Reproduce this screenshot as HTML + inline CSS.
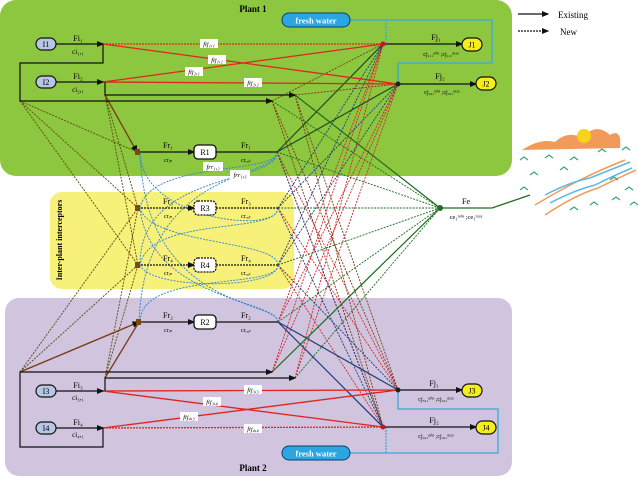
<!DOCTYPE html>
<html><head><meta charset="utf-8"><style>
html,body{margin:0;padding:0;background:#fff}
svg{display:block}
text{font-family:"Liberation Serif",serif;}
</style></head><body>
<svg width="638" height="478" viewBox="0 0 638 478" xmlns="http://www.w3.org/2000/svg">
<defs>
<marker id="a" markerWidth="6" markerHeight="6" refX="5" refY="3" orient="auto"><path d="M0,0.5 L6,3 L0,5.5z" fill="#111"/></marker>
</defs>
<rect x="0" y="0" width="512" height="176" rx="16" fill="#8dc63f"/>
<rect x="50" y="192" width="244" height="97" rx="12" fill="#f7f17a"/>
<rect x="5" y="298" width="507" height="178" rx="14" fill="#d0c4de"/>
<text x="253" y="12" font-size="9" font-weight="bold" text-anchor="middle">Plant 1</text>
<text x="253" y="471" font-size="9" font-weight="bold" text-anchor="middle">Plant 2</text>
<text x="62" y="240" font-size="8" font-weight="bold" text-anchor="middle" transform="rotate(-90 62 240)">Inter-plant interceptors</text>

<line x1="518" y1="14" x2="548" y2="14" stroke="#111" stroke-width="1.2" marker-end="url(#a)"/>
<text x="558" y="18" font-size="9">Existing</text>
<line x1="518" y1="31" x2="548" y2="31" stroke="#111" stroke-width="1.2" stroke-dasharray="2,1" marker-end="url(#a)"/>
<text x="560" y="35" font-size="9">New</text>

<g fill="none" stroke-width="1.5">
<path d="M522,150 Q540,138 555,142 Q568,130 582,138 Q596,122 610,135 Q622,128 620,148 L522,150z" fill="#f29a5a" stroke="none"/>
<circle cx="584" cy="136" r="7" fill="#f7d31c" stroke="none"/>
<path d="M535,205 Q560,190 580,180 Q600,170 625,160" stroke="#f29a5a"/>
<path d="M545,215 Q575,195 598,188 Q618,178 636,170" stroke="#f29a5a"/>
<path d="M545,195 Q570,182 590,178 Q610,170 630,162" stroke="#5fb7e5"/>
<path d="M550,203 Q575,190 595,185 Q615,175 632,168" stroke="#5fb7e5"/>
<g stroke="#3aa57a" stroke-width="1.2">
<path d="M520,160 l4,-3 l4,3 M545,158 l4,-3 l4,3 M570,160 l4,-3 l4,3 M598,152 l4,-3 l4,3 M622,150 l4,-3 l4,3 M530,175 l4,-3 l4,3 M560,170 l4,-3 l4,3 M610,180 l4,-3 l4,3 M625,190 l4,-3 l4,3 M520,190 l4,-3 l4,3 M590,205 l4,-3 l4,3 M612,200 l4,-3 l4,3 M630,205 l4,-3 l4,3 M570,210 l4,-3 l4,3"/>
</g>
</g>

<polyline points="440,208 492,208 530,195" fill="none" stroke="#1b6e20" stroke-width="1.3"/>
<circle cx="440" cy="208" r="3" fill="#1b6e20"/>
<text x="466" y="204" font-size="8" text-anchor="middle">Fe</text>
<text x="466" y="219" font-size="6.5" text-anchor="middle">ce₁ᵐⁱⁿ ;ce₁ᵐᵃˣ</text>

<g fill="none" stroke="#3aa8e0" stroke-width="1.3">
<polyline points="350,20 492,20 492,63 398,63 398,84"/>
<line x1="386" y1="20" x2="386" y2="44" stroke-dasharray="2,1"/>
<polyline points="350,453 498,453 498,409 398,409 398,390"/>
<line x1="386" y1="453" x2="386" y2="427" stroke-dasharray="2,1"/>
</g>
<rect x="282" y="13" width="68" height="14" rx="7" fill="#2ba6e0" stroke="#0d3f6b"/>
<text x="316" y="23.5" font-size="8.5" font-weight="bold" fill="#fff" text-anchor="middle">fresh water</text>
<rect x="282" y="446" width="68" height="14" rx="7" fill="#2ba6e0" stroke="#0d3f6b"/>
<text x="316" y="456.5" font-size="8.5" font-weight="bold" fill="#fff" text-anchor="middle">fresh water</text>

<g fill="none" stroke-width="0.9" stroke-dasharray="2,1.2">
<g stroke="#7a3a14">
<line x1="272" y1="101" x2="383" y2="44"/><line x1="295" y1="95" x2="398" y2="84"/>
<line x1="272" y1="101" x2="398" y2="390"/><line x1="295" y1="95" x2="383" y2="427"/>
<line x1="272" y1="101" x2="383" y2="427"/><line x1="295" y1="95" x2="398" y2="390"/>
</g>
<g stroke="#d3262e">
<line x1="272" y1="372" x2="383" y2="44"/><line x1="295" y1="378" x2="398" y2="84"/>
<line x1="272" y1="372" x2="398" y2="84"/><line x1="295" y1="378" x2="383" y2="44"/>
<line x1="277" y1="152" x2="383" y2="427"/><line x1="278" y1="208" x2="398" y2="390"/>
<line x1="278" y1="265" x2="383" y2="427"/><line x1="277" y1="152" x2="398" y2="390"/>
<line x1="278" y1="322" x2="383" y2="44"/><line x1="278" y1="322" x2="398" y2="84"/>
</g>
<g stroke="#1d3b7a">
<line x1="278" y1="208" x2="383" y2="44"/><line x1="278" y1="208" x2="398" y2="84"/>
<line x1="278" y1="265" x2="383" y2="44"/><line x1="278" y1="265" x2="398" y2="84"/>
<line x1="278" y1="208" x2="383" y2="427"/><line x1="278" y1="265" x2="398" y2="390"/>
<line x1="277" y1="152" x2="383" y2="427"/>
</g>
<g stroke="#1b6e20">
<line x1="277" y1="152" x2="440" y2="208"/><line x1="278" y1="208" x2="440" y2="208"/>
<line x1="278" y1="265" x2="440" y2="208"/><line x1="278" y1="322" x2="440" y2="208"/>
<line x1="272" y1="101" x2="440" y2="208"/><line x1="272" y1="372" x2="440" y2="208"/>
<line x1="295" y1="378" x2="440" y2="208"/>
</g>
</g>
<g fill="none" stroke-width="1.2">
<line x1="277" y1="152" x2="383" y2="44" stroke="#1b4f20"/>
<line x1="277" y1="152" x2="398" y2="84" stroke="#1b4f20"/>
<line x1="295" y1="95" x2="440" y2="208" stroke="#1b6e20"/>
<line x1="278" y1="322" x2="398" y2="390" stroke="#1d3b7a"/>
<line x1="278" y1="322" x2="383" y2="427" stroke="#1d3b7a"/>
<line x1="272" y1="372" x2="440" y2="208" stroke="#1b6e20"/>
</g>

<g fill="none" stroke="#e0241f" stroke-width="1.3">
<line x1="103" y1="44" x2="383" y2="44" stroke-dasharray="2,1"/>
<line x1="103" y1="44" x2="398" y2="84"/>
<line x1="103" y1="82" x2="383" y2="44"/>
<line x1="103" y1="82" x2="398" y2="84"/>
<line x1="103" y1="391" x2="398" y2="390"/>
<line x1="103" y1="391" x2="383" y2="427"/>
<line x1="103" y1="428" x2="398" y2="390"/>
<line x1="103" y1="428" x2="383" y2="427" stroke-dasharray="2,1"/>
</g>

<g fill="none" stroke="#5a4a10" stroke-width="0.9" stroke-dasharray="2,1.2">
<line x1="20" y1="101" x2="138" y2="208"/><line x1="20" y1="101" x2="138" y2="265"/>
<line x1="105" y1="95" x2="138" y2="208"/><line x1="105" y1="95" x2="138" y2="265"/>
<line x1="20" y1="372" x2="138" y2="208"/><line x1="20" y1="372" x2="138" y2="265"/>
<line x1="105" y1="378" x2="138" y2="208"/><line x1="105" y1="378" x2="138" y2="265"/>
<line x1="20" y1="101" x2="137" y2="152"/><line x1="20" y1="372" x2="139" y2="322"/>
</g>
<g fill="none" stroke="#7a3a14" stroke-width="1.3">
<line x1="105" y1="95" x2="137" y2="152" marker-end="url(#a)"/>
<line x1="20" y1="372" x2="139" y2="322" marker-end="url(#a)"/>
<line x1="105" y1="378" x2="139" y2="322"/>
</g>

<g fill="none" stroke="#2f86c8" stroke-width="0.9" stroke-dasharray="2,1.2">
<path d="M277,152 C277,175 150,160 140,208"/>
<path d="M277,152 C277,185 140,170 140,265"/>
<path d="M277,152 C277,180 145,165 139,322"/>
<path d="M278,208 C278,235 140,220 140,152"/>
<path d="M278,208 C278,235 150,215 140,265"/>
<path d="M278,265 C278,240 150,245 140,208"/>
<path d="M278,265 C278,290 140,270 140,322"/>
<path d="M278,322 C278,300 145,310 140,152"/>
<path d="M278,322 C278,300 150,300 140,208"/>
<path d="M278,265 C278,290 150,290 140,265"/>
</g>

<g fill="none" stroke="#111" stroke-width="1.2">
<line x1="56" y1="44" x2="103" y2="44" marker-end="url(#a)"/>
<polyline points="103,44 103,63 20,63 20,101 272,101" marker-end="url(#a)"/>
<line x1="56" y1="82" x2="103" y2="82" marker-end="url(#a)"/>
<polyline points="105,82 105,95 295,95" marker-end="url(#a)"/>
<line x1="56" y1="391" x2="103" y2="391" marker-end="url(#a)"/>
<polyline points="105,391 105,378 295,378" marker-end="url(#a)"/>
<polyline points="103,428 103,447 20,447 20,372 272,372" marker-end="url(#a)"/>
<line x1="56" y1="428" x2="103" y2="428" marker-end="url(#a)"/>
<line x1="383" y1="44" x2="462" y2="44" marker-end="url(#a)"/>
<line x1="398" y1="84" x2="476" y2="84" marker-end="url(#a)"/>
<line x1="398" y1="390" x2="462" y2="390" marker-end="url(#a)"/>
<line x1="383" y1="427" x2="476" y2="427" marker-end="url(#a)"/>
<line x1="137" y1="152" x2="194" y2="152" marker-end="url(#a)"/><line x1="216" y1="152" x2="277" y2="152"/>
<line x1="139" y1="322" x2="194" y2="322" marker-end="url(#a)"/><line x1="216" y1="322" x2="278" y2="322"/>
<g stroke-dasharray="2,1"><line x1="138" y1="208" x2="194" y2="208" marker-end="url(#a)"/><line x1="216" y1="208" x2="278" y2="208"/>
<line x1="138" y1="265" x2="194" y2="265" marker-end="url(#a)"/><line x1="216" y1="265" x2="278" y2="265"/></g>
</g>

<g font-size="8" text-anchor="middle">
<g fill="#b8c6e6" stroke="#111" stroke-width="1.2">
<rect x="36" y="38" width="20" height="12" rx="6"/><rect x="36" y="76" width="20" height="12" rx="6"/>
<rect x="36" y="385" width="20" height="12" rx="6"/><rect x="36" y="422" width="20" height="12" rx="6"/>
</g>
<text x="46" y="47">I1</text><text x="46" y="85">I2</text><text x="46" y="394">I3</text><text x="46" y="431">I4</text>
<g fill="#f5ee1c" stroke="#111" stroke-width="1.2">
<rect x="462" y="38" width="20" height="13" rx="6.5"/><rect x="476" y="77" width="20" height="13" rx="6.5"/>
<rect x="462" y="384" width="20" height="13" rx="6.5"/><rect x="476" y="421" width="20" height="13" rx="6.5"/>
</g>
<text x="472" y="47.5">J1</text><text x="486" y="86.5">J2</text><text x="472" y="393.5">J3</text><text x="486" y="430.5">J4</text>
<g fill="#fff" stroke="#111" stroke-width="1.3">
<rect x="194" y="145" width="22" height="14" rx="4"/><rect x="194" y="315" width="22" height="14" rx="4"/>
<rect x="194" y="201" width="22" height="14" rx="4" stroke-dasharray="2,1"/><rect x="194" y="258" width="22" height="14" rx="4" stroke-dasharray="2,1"/>
</g>
<text x="205" y="155">R1</text><text x="205" y="211">R3</text><text x="205" y="268">R4</text><text x="205" y="325">R2</text>

<text x="78" y="41">Fi₁</text><text x="78" y="54" font-size="7">ci₁,₁</text>
<text x="78" y="79">Fi₂</text><text x="78" y="92" font-size="7">ci₂,₁</text>
<text x="78" y="388">Fi₃</text><text x="78" y="400" font-size="7">ci₃,₁</text>
<text x="78" y="425">Fi₄</text><text x="78" y="437" font-size="7">ci₄,₁</text>
<text x="168" y="148">Fr₁</text><text x="168" y="162" font-size="6">crᵢₙ</text>
<text x="246" y="148">Fr₁</text><text x="246" y="162" font-size="6">crₒᵤₜ</text>
<text x="168" y="204">Fr₃</text><text x="168" y="218" font-size="6">crᵢₙ</text>
<text x="246" y="204">Fr₃</text><text x="246" y="218" font-size="6">crₒᵤₜ</text>
<text x="168" y="261">Fr₄</text><text x="168" y="275" font-size="6">crᵢₙ</text>
<text x="246" y="261">Fr₄</text><text x="246" y="275" font-size="6">crₒᵤₜ</text>
<text x="168" y="318">Fr₂</text><text x="168" y="332" font-size="6">crᵢₙ</text>
<text x="246" y="318">Fr₂</text><text x="246" y="332" font-size="6">crₒᵤₜ</text>
<text x="436" y="40">Fj₁</text><text x="441" y="56" font-size="6">cj₁,₁ᵐⁱⁿ ;cj₁,₁ᵐᵃˣ</text>
<text x="440" y="79">Fj₂</text><text x="442" y="94" font-size="6">cj₂,₁ᵐⁱⁿ ;cj₂,₁ᵐᵃˣ</text>
<text x="434" y="386">Fj₁</text><text x="436" y="401" font-size="6">cj₃,₁ᵐⁱⁿ ;cj₃,₁ᵐᵃˣ</text>
<text x="434" y="423">Fj₂</text><text x="436" y="438" font-size="6">cj₄,₁ᵐⁱⁿ ;cj₄,₁ᵐᵃˣ</text>
</g>
<g font-size="6.5" font-style="italic" text-anchor="middle">
<g fill="#fff"><rect x="200" y="39" width="18" height="9"/><rect x="208" y="55" width="18" height="9"/><rect x="185" y="67" width="18" height="9"/><rect x="244" y="78" width="18" height="9"/>
<rect x="244" y="385" width="18" height="9"/><rect x="203" y="397" width="18" height="9"/><rect x="180" y="412" width="18" height="9"/><rect x="244" y="424" width="18" height="9"/>
<rect x="203" y="162" width="20" height="9"/><rect x="230" y="170" width="20" height="9"/></g>
<text x="209" y="46">fij₁,₁</text><text x="217" y="62">fij₁,₂</text><text x="194" y="74">fij₂,₁</text><text x="253" y="85">fij₂,₂</text>
<text x="253" y="392">fij₃,₃</text><text x="212" y="404">fij₃,₄</text><text x="189" y="419">fij₄,₃</text><text x="253" y="431">fij₄,₄</text>
<text x="213" y="169">frr₁,₂</text><text x="240" y="177">frr₁,₃</text>
</g>
<g fill="#222">
<circle cx="383" cy="44" r="2.5" fill="#c0182a"/><circle cx="398" cy="84" r="2.5"/><circle cx="398" cy="390" r="2.5"/><circle cx="383" cy="427" r="2.5" fill="#c0182a"/>
<rect x="135" y="149" width="5" height="6" fill="#7a4a10"/><rect x="135" y="205" width="5" height="6" fill="#7a4a10"/><rect x="135" y="262" width="5" height="6" fill="#7a4a10"/><rect x="136" y="319" width="5" height="6" fill="#7a4a10"/>
</g>
</svg>
</body></html>
